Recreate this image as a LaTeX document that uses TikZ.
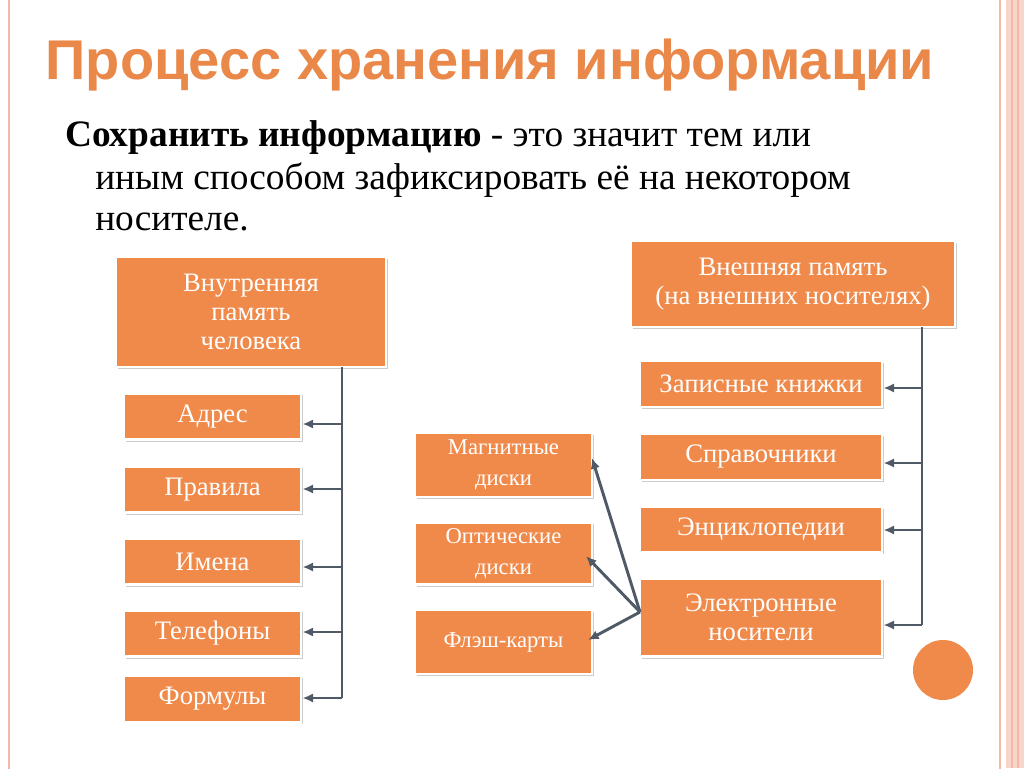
\documentclass[tikz,border=0pt]{standalone}
\usepackage{fontspec}
\setmainfont{Liberation Serif}
\newfontfamily\titlefont{Liberation Sans}
\usetikzlibrary{shadows,arrows.meta}
\definecolor{org}{HTML}{F08A4B}
\definecolor{ln}{HTML}{505A66}
\definecolor{pk}{HTML}{F4B9A6}
\tikzset{
 bx/.style={draw=white,line width=2.2pt,fill=org,text=white,align=center,font=\fontsize{20}{22}\selectfont,inner sep=0pt,drop shadow={shadow xshift=1.5pt,shadow yshift=-1.5pt,opacity=0.4,fill=gray}},
 ar/.style={ln,line width=2.2pt,-{Latex[length=8pt,width=7pt]}},
 vl/.style={ln,line width=2.2pt}
}
\begin{document}
\begin{tikzpicture}[x=0.75pt,y=-0.75pt]
\useasboundingbox (0,0) rectangle (1024,768);
\fill[white] (0,0) rectangle (1024,768);
\draw[pk,line width=1pt] (9,-2) -- (9,770);
\draw[pk,line width=1pt] (1000,-2) -- (1000,770);
\fill[pk!60] (1006,0) rectangle (1024,768);
\draw[pk,line width=1pt] (1012,0) -- (1012,768);
\draw[pk,line width=1pt] (1018,0) -- (1018,768);
\fill[org] (943,670) circle (30);
\node[font=\titlefont\bfseries\fontsize{42}{46}\selectfont,text=org!85!brown] (t) at (490,65) {Процесс хранения информации};
\node[anchor=base west,font=\fontsize{28}{32}\selectfont,inner sep=0] (l1) at (65,146) {\textbf{Сохранить информацию} - это значит тем или};
\node[anchor=base west,font=\fontsize{28}{32}\selectfont,inner sep=0] (l2) at (95,189) {иным способом зафиксировать её на некотором};
\node[anchor=base west,font=\fontsize{28}{32}\selectfont,inner sep=0] (l3) at (95,230) {носителе.};
% left
\node[bx,minimum width=202.5pt,minimum height=82.5pt] (in) at (251,312) {Внутренняя\\память\\человека};
\node[bx,minimum width=132.75pt,minimum height=35pt] (a1) at (212.5,416.5) {Адрес};
\node[bx,minimum width=132.75pt,minimum height=35pt] (a2) at (212.5,489.5) {Правила};
\node[bx,minimum width=132.75pt,minimum height=35pt] (a3) at (212.5,561.5) {Имена};
\node[bx,minimum width=132.75pt,minimum height=35pt] (a4) at (212.5,633.5) {Телефоны};
\node[bx,minimum width=132.75pt,minimum height=35pt] (a5) at (212.5,699) {Формулы};
\coordinate (lt) at (342,367);
\coordinate (lb) at (342,698);
\draw[vl] (lt) -- (lb);
\foreach \n/\y in {a1/424,a2/489,a3/567,a4/632,a5/698}{\draw[ar] (342,\y) -- (\n.east |- 0,\y);}
% right
\node[bx,minimum width=243pt,minimum height=64.5pt] (ex) at (793,284) {Внешняя память\\(на внешних носителях)};
\node[bx,minimum width=181.5pt,minimum height=34.5pt] (b1) at (761,384) {Записные книжки};
\node[bx,minimum width=181.5pt,minimum height=34.5pt] (b2) at (761,457) {Справочники};
\node[bx,minimum width=181.5pt,minimum height=34pt] (b3) at (761,529.5) {Энциклопедии};
\node[bx,minimum width=181.5pt,minimum height=59pt] (b4) at (761,617.5) {Электронные\\носители};
\draw[vl] (922,327) -- (922,625);
\foreach \n/\y in {b1/388,b2/463,b3/530,b4/625}{\draw[ar] (922,\y) -- (\n.east |- 0,\y);}
% middle
\node[bx,minimum width=132.75pt,minimum height=48pt,font=\fontsize{17}{23}\selectfont] (c1) at (503.5,465) {Магнитные\\диски};
\node[bx,minimum width=132.75pt,minimum height=47pt,font=\fontsize{17}{23}\selectfont] (c2) at (503.5,553.5) {Оптические\\диски};
\node[bx,minimum width=132.75pt,minimum height=48pt,font=\fontsize{17}{23}\selectfont] (c3) at (503.5,642) {Флэш-карты};
\coordinate (hub) at (640,612);
\draw[ar] (hub) -- (592,458);
\draw[ar] (hub) -- (586,556);
\draw[ar] (hub) -- (588,640);
\end{tikzpicture}
\end{document}
